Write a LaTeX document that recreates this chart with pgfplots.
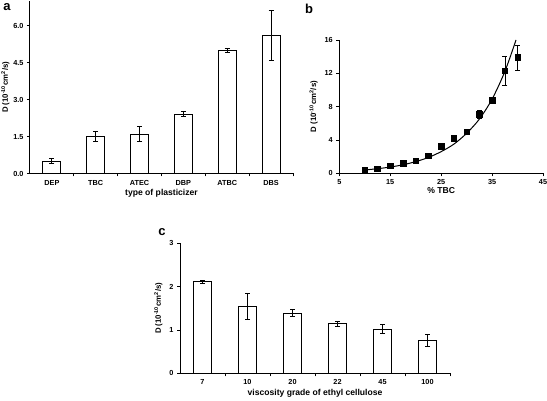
\documentclass[border=0pt]{standalone}
\usepackage{fontspec}
\setmainfont{Liberation Sans}
\usepackage{pgfplots}
\pgfplotsset{compat=1.18}
\pgfplotsset{
  myax/.style={
    scale only axis,
    anchor=south west,
    axis x line*=bottom,
    axis y line*=left,
    axis line style={-, line width=1pt},
    tick align=outside,
    major tick length=3pt,
    minor tick length=3pt,
    tick style={black, line width=0.8pt},
    font=\bfseries\fontsize{7.5}{8}\selectfont,
    tick label style={font=\bfseries\fontsize{7.3}{8}\selectfont},
    label style={font=\bfseries\fontsize{8.6}{9}\selectfont},
    ylabel style={font=\bfseries\fontsize{7.8}{8}\selectfont},
    /pgf/number format/assume math mode=true,
    clip=false,
  },
  catax/.style={
    myax,
    xmin=-0.5, xmax=5.5,
    xtick={0,...,5},
    major x tick style={draw=none},
    minor xtick={0.5,1.5,...,5.5},
    minor x tick style={line width=0.8pt},
  },
  barplot/.style={
    ybar, bar width=18pt, fill=white, draw=black, line width=1pt,
    error bars/.cd, y dir=both, y explicit,
    error bar style={line width=1pt},
    error mark options={rotate=90, line width=1pt, mark size=2.5pt},
  },
}
\begin{document}
\begin{tikzpicture}[x=1pt,y=1pt]
\useasboundingbox (0,0) rectangle (547,401);

% ---- panel a
\begin{axis}[catax,
  at={(30pt,227.5pt)},
  width=263pt, height=172.4pt,
  ymin=0, ymax=7,
  ytick={0,1.5,3,4.5,6},
  yticklabel style={/pgf/number format/.cd, fixed, fixed zerofill, precision=1},
  xticklabels={DEP,TBC,ATEC,DBP,ATBC,DBS},
  xlabel={type of plasticizer},
  ylabel={D (10\textsuperscript{-10}cm\textsuperscript{2}/s)},
  ylabel style={yshift=-3pt},
  xlabel style={yshift=3pt},
]
\addplot[barplot] coordinates {
  (0,0.50) +- (0,0.10)
  (1,1.50) +- (0,0.20)
  (2,1.60) +- (0,0.30)
  (3,2.40) +- (0,0.10)
  (4,5.00) +- (0,0.08)
  (5,5.60) +- (0,1.00)
};
\end{axis}

% ---- panel b
\begin{axis}[myax,
  at={(339.3pt,227.7pt)},
  width=203.7pt, height=133.3pt,
  xmin=5, xmax=45, ymin=0, ymax=16,
  xtick={5,15,25,35,45},
  ytick={0,4,8,12,16},
  xlabel={\% TBC},
  ylabel={D (10\textsuperscript{-10}cm\textsuperscript{2}/s)},
  xlabel style={yshift=4pt},
]
\addplot[smooth, line width=1pt, black] coordinates {
  (10,0.40) (12.5,0.55) (15,0.75) (17.5,1.02) (20,1.40) (22.5,1.90)
  (25,2.60) (27.5,3.50) (30,4.80) (32.5,6.50) (35,8.90) (37.5,12.2) (39.7,16.0)
};
\addplot[only marks, mark=square*, mark size=2.8pt, black,
  error bars/.cd, y dir=both, y explicit,
  error bar style={line width=0.5pt},
  error mark options={rotate=90, line width=0.5pt, mark size=2.5pt},
] coordinates {
  (10,0.40) +- (0,0)
  (12.5,0.55) +- (0,0)
  (15,0.90) +- (0,0)
  (17.5,1.20) +- (0,0)
  (20,1.50) +- (0,0)
  (22.5,2.10) +- (0,0)
  (25,3.25) +- (0,0)
  (27.5,4.20) +- (0,0.2)
  (30,5.00) +- (0,0)
  (32.5,7.10) +- (0,0.5)
  (35,8.80) +- (0,0)
  (37.5,12.30) +- (0,1.7)
  (40,13.90) +- (0,1.5)
};
\end{axis}

% ---- panel c
\begin{axis}[catax,
  at={(180pt,27.7pt)},
  width=270pt, height=130pt,
  ymin=0, ymax=3,
  ytick={0,1,2,3},
  xticklabels={7,10,20,22,45,100},
  xlabel={viscosity grade of ethyl cellulose},
  ylabel={D (10\textsuperscript{-10}cm\textsuperscript{2}/s)},
  xlabel style={yshift=3pt},
]
\addplot[barplot] coordinates {
  (0,2.11) +- (0,0.04)
  (1,1.55) +- (0,0.30)
  (2,1.39) +- (0,0.08)
  (3,1.14) +- (0,0.06)
  (4,1.02) +- (0,0.10)
  (5,0.76) +- (0,0.14)
};
\end{axis}

\node[font=\bfseries\fontsize{13}{13}\selectfont, anchor=center] at (7,394) {a};
\node[font=\bfseries\fontsize{13}{13}\selectfont, anchor=center] at (309,392) {b};
\node[font=\bfseries\fontsize{13}{13}\selectfont, anchor=center] at (162,169) {c};
\end{tikzpicture}
\end{document}
